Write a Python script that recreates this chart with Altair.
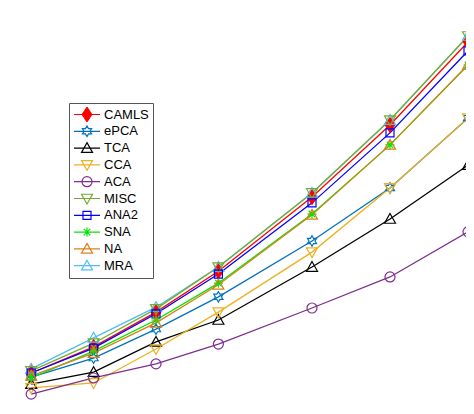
import math
import altair as alt
import pandas as pd

# ---------------- data ----------------
series = ["CAMLS", "ePCA", "TCA", "CCA", "ACA", "MISC", "ANA2", "SNA", "NA", "MRA"]
colors = ["#FF0000", "#0072BD", "#000000", "#EDB120", "#7E2F8E",
          "#77AC30", "#0000FF", "#00E600", "#D98019", "#4DBEEE"]
x_vals = [0.4, 1.2, 2.0, 2.8, 4.0, 5.0, 6.0]

camls = [0.99, 1.62, 2.46, 3.45, 5.24, 6.98, 8.99]
epca = [0.89, 1.35, 2.05, 2.83, 4.18, 5.46, 7.15]
tca = [0.72, 1.01, 1.74, 2.27, 3.55, 4.71, 6.01]
cca = [0.63, 0.75, 1.57, 2.46, 3.91, 5.46, 7.15]
aca = [0.48, 0.87, 1.21, 1.69, 2.56, 3.31, 4.40]
misc = [1.04, 1.71, 2.54, 3.55, 5.34, 7.10, 9.13]
ana2 = [0.99, 1.59, 2.42, 3.38, 5.10, 6.79, 8.77]
sna = [0.87, 1.52, 2.27, 3.16, 4.83, 6.50, 8.43]
na = [0.92, 1.47, 2.20, 3.12, 4.81, 6.50, 8.43]
mra = [1.09, 1.84, 2.58, 3.55, 5.34, 7.10, 9.13]

values = {"CAMLS": camls, "ePCA": epca, "TCA": tca, "CCA": cca, "ACA": aca,
          "MISC": misc, "ANA2": ana2, "SNA": sna, "NA": na, "MRA": mra}
draw_order = ["CAMLS", "ePCA", "TCA", "CCA", "ACA", "MRA", "MISC", "ANA2", "SNA", "NA"]

rows = []
for s in draw_order:
    for xv, yv in zip(x_vals, values[s]):
        rows.append({"series": s, "x": xv, "y": yv})
df = pd.DataFrame(rows)

# ---------------- marker shapes (MATLAB-like) ----------------
def poly(pts, k):
    return "M" + "L".join(f"{px * k:.3f},{py * k:.3f}" for px, py in pts) + "Z"

def hexagram(k, R=1.05):
    pts = []
    for i in range(12):
        ang = math.radians(-90 + 30 * i)
        r = R if i % 2 == 0 else R / math.sqrt(3)
        pts.append((r * math.cos(ang), r * math.sin(ang)))
    return poly(pts, k)

def circle(k, r=1.0):
    r = r * k
    return f"M{r:.3f},0A{r:.3f},{r:.3f} 0 1,1 {-r:.3f},0A{r:.3f},{r:.3f} 0 1,1 {r:.3f},0Z"

def asterisk(k, a=0.9, b=0.65):
    a, b = a * k, b * k
    return (f"M{-a:.3f},0L{a:.3f},0M0,{-a:.3f}L0,{a:.3f}"
            f"M{-b:.3f},{-b:.3f}L{b:.3f},{b:.3f}M{-b:.3f},{b:.3f}L{b:.3f},{-b:.3f}")

def marker_paths(k):
    return {
        "CAMLS": poly([(0, -1.45), (0.95, 0), (0, 1.45), (-0.95, 0)], k),
        "ePCA": hexagram(k),
        "TCA": poly([(0, -1.1), (1.1, 0.85), (-1.1, 0.85)], k),
        "CCA": poly([(0, 1.1), (1.1, -0.85), (-1.1, -0.85)], k),
        "ACA": circle(k),
        "MISC": poly([(0, 1.1), (1.1, -0.85), (-1.1, -0.85)], k),
        "ANA2": poly([(-0.8, -0.8), (0.8, -0.8), (0.8, 0.8), (-0.8, 0.8)], k),
        "SNA": asterisk(k),
        "NA": poly([(0, -1.1), (1.1, 0.85), (-1.1, 0.85)], k),
        "MRA": poly([(0, -1.1), (1.1, 0.85), (-1.1, 0.85)], k),
    }

plot_shapes = marker_paths(1.0)
leg_shapes = marker_paths(5.0 / 13.0)
plot_range = [plot_shapes[s] for s in series]
leg_range = ["M-1,0L1,0" + leg_shapes[s] for s in series]
fills = ["#FF0000"] + ["transparent"] * (len(series) - 1)

W, H = 468, 414
xs = alt.Scale(domain=[0, 6], nice=False, zero=False)
ys = alt.Scale(domain=[0, 10], nice=False, zero=False)
cscale = alt.Scale(domain=series, range=colors)
fscale = alt.Scale(domain=series, range=fills)

base = alt.Chart(df)

lines = base.mark_line(strokeWidth=1.3).encode(
    x=alt.X("x:Q", scale=xs,
            axis=alt.Axis(orient="top", offset=-H, values=list(range(7)), labels=False,
                          domain=False, ticks=True, tickSize=5, tickColor="#666",
                          tickWidth=1, title=None, grid=False)),
    y=alt.Y("y:Q", scale=ys,
            axis=alt.Axis(orient="left", offset=-W, values=list(range(11)), labels=False,
                          domain=False, ticks=True, tickSize=5, tickColor="#666",
                          tickWidth=1, title=None, grid=False)),
    color=alt.Color("series:N", scale=cscale, legend=None),
    order=alt.Order("x:Q"),
)

points = base.mark_point(filled=False, size=100, strokeWidth=1.2, opacity=1).encode(
    x=alt.X("x:Q", scale=xs, axis=None),
    y=alt.Y("y:Q", scale=ys, axis=None),
    color=alt.Color("series:N", scale=cscale, legend=None),
    fill=alt.Fill("series:N", scale=fscale, legend=None),
    shape=alt.Shape("series:N", scale=alt.Scale(domain=series, range=plot_range), legend=None),
)

def make_legend():
    return alt.Legend(
        orient="none", legendX=69, legendY=103, title=None,
        padding=4, strokeColor="#555555", fillColor="white",
        labelFont="Liberation Sans", labelFontSize=13, labelColor="black",
        labelOffset=3, symbolSize=676, clipHeight=15, rowPadding=1.8,
        symbolStrokeWidth=1.2, symbolOpacity=1, offset=0,
    )

leg = base.mark_point(filled=False, size=100, opacity=0).encode(
    x=alt.X("x:Q", scale=xs, axis=None),
    y=alt.Y("y:Q", scale=ys, axis=None),
    color=alt.Color("series:N", scale=cscale, legend=make_legend()),
    fill=alt.Fill("series:N", scale=fscale, legend=make_legend()),
    shape=alt.Shape("series:N", scale=alt.Scale(domain=series, range=leg_range),
                    legend=make_legend()),
)

# page margin is 8px; keep the svg inside the window (458 x 396) while the
# plot origin sits at the page corner like the cropped reference
chart = (
    alt.layer(lines, points, leg)
    .resolve_scale(color="independent", fill="independent", shape="independent")
    .properties(
        width=W, height=H,
        autosize=alt.AutoSizeParams(type="none"),
        padding={"left": -8, "top": -8, "right": -2, "bottom": -10},
        background="white",
    )
    .configure_view(stroke="#6a6a6a", strokeWidth=1)
)

chart.save("out.html", embed_options={"renderer": "svg", "actions": False})
